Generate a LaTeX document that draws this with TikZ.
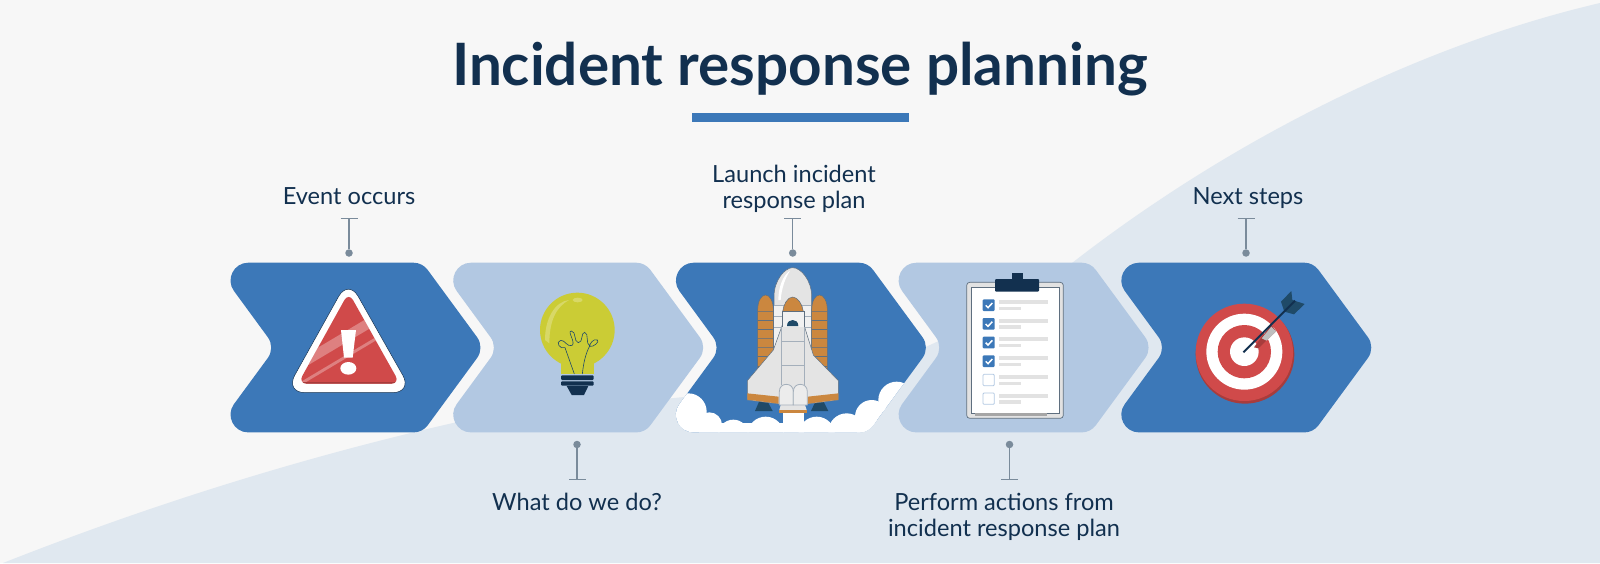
\documentclass[tikz,border=0pt]{standalone}
\usepackage{fontspec}
\setmainfont{Lato}
\usepackage{xcolor}
\usetikzlibrary{arrows.meta}
\definecolor{pagegray}{HTML}{F7F7F7}
\definecolor{wavecol}{HTML}{E0E8F0}
\definecolor{stepdark}{HTML}{3C78B8}
\definecolor{steplight}{HTML}{B2C8E2}
\definecolor{navy}{HTML}{12304F}
\definecolor{stemcol}{HTML}{7A8B9B}
\definecolor{alertred}{HTML}{D04A4A}
\definecolor{darkred}{HTML}{A83C3C}
\definecolor{bulbcol}{HTML}{CBCC35}
\definecolor{boostercol}{HTML}{CB873F}
\definecolor{teal}{HTML}{1F4A68}
\definecolor{hullcol}{HTML}{E4E4E4}
\definecolor{rimcol}{HTML}{5F6F7F}
\definecolor{ribcol}{HTML}{A4AFBB}
\definecolor{barcol}{HTML}{E2E2E2}
\tikzstyle{stemline}=[stemcol,line width=1.5pt,-{Bar[width=17pt,length=1.5pt]}]
\tikzstyle{stemdot}=[circle,fill=stemcol,inner sep=0pt,minimum size=7.5pt]
\tikzstyle{steptext}=[navy,align=center,inner sep=0pt,font=\fontsize{23.6}{26}\selectfont]
\tikzstyle{hull}=[fill=hullcol,draw=rimcol,line width=.5pt]
\tikzstyle{booster}=[fill=boostercol,draw=rimcol,line width=.5pt]
\tikzstyle{rib}=[ribcol,line width=.8pt]
\newcommand{\chevronpath}{
	(35,262.7) -- (200.4,262.7) .. controls (205.9,262.7) and (211.1,265.4) .. (214.4,269.8)
	-- (263.9,337.2) .. controls (268.4,343.4) and (268.4,351.8) .. (263.9,358)
	-- (214.4,425.4) .. controls (211.1,429.8) and (205.9,432.4) .. (200.4,432.4)
	-- (35,432.4) .. controls (20.6,432.4) and (12.2,415.8) .. (20.7,404.2)
	-- (54.6,358) .. controls (59.1,351.8) and (59.1,343.4) .. (54.6,337.2)
	-- (20.7,290.9) .. controls (12.2,279.3) and (20.6,262.7) .. (35,262.7) -- cycle}
\newcommand{\chevronbox}[2]{
	\fill[#2,xshift=#1pt] \chevronpath;
}
\newcommand{\checkrow}[2]{
	\fill[barcol] (237,#1+2) rectangle (384,#1+14);
	\fill[barcol] (237,#1+22) rectangle (303,#1+32);
	#2
}
\begin{document}
\begin{tikzpicture}[x=1pt,y=-1pt]
	\useasboundingbox (0,0) rectangle (1600,563);
	\fill[pagegray] (0,0) rectangle (1600,563);
	\fill[wavecol] (3,563) .. controls (150,505) and (300,458) .. (453,423) .. controls (560,398) and (800,405) .. (930,345) .. controls (980,322) and (1020,300) .. (1072,263) .. controls (1230,140) and (1420,45) .. (1600,3) -- (1600,563) -- cycle;

	\node[navy,inner sep=0pt,anchor=base,font=\fontsize{58.4}{62}\selectfont\bfseries] (title) at (800,85.5) {Incident response planning};
	\fill[stepdark] (692,113.3) rectangle (909,121.7);

	\chevronbox{213.2}{stepdark}
	\chevronbox{435.9}{steplight}
	\chevronbox{658.6}{stepdark}
	\chevronbox{881.3}{steplight}
	\chevronbox{1104}{stepdark}

	% stems and labels
	\node[stemdot] (dotA) at (349,253) {};
	\coordinate (barA) at (349,217.7);
	\draw[stemline] (dotA) -- (barA);
	\node[steptext,anchor=base] (labelA) at (349,204.3) {Event occurs};
	\node[stemdot] (dotB) at (577,444.5) {};
	\coordinate (barB) at (577,480);
	\draw[stemline] (dotB) -- (barB);
	\node[steptext,anchor=base] (labelB) at (577,510) {What do we do?};
	\node[stemdot] (dotC) at (792.7,253) {};
	\coordinate (barC) at (792.7,217.7);
	\draw[stemline] (dotC) -- (barC);
	\node[steptext,anchor=south] (labelC) at (794,212.5) {Launch incident\\response plan};
	\node[stemdot] (dotD) at (1009.5,444.5) {};
	\coordinate (barD) at (1009.5,480);
	\draw[stemline] (dotD) -- (barD);
	\node[steptext,anchor=north] (labelD) at (1004,492.5) {Perform actions from\\incident response plan};
	\node[stemdot] (dotE) at (1246,253) {};
	\coordinate (barE) at (1246,217.7);
	\draw[stemline] (dotE) -- (barE);
	\node[steptext,anchor=base] (labelE) at (1248,204.3) {Next steps};

	% warning sign
	\begin{scope}[shift={(270,275)},scale=1/3]
		\fill[white,draw=navy,line width=.5pt,rounded corners=20pt] (235,12) -- (45,353) -- (428,353) -- cycle;
		\begin{scope}
			\clip[rounded corners=9pt] (236,52) -- (84,326) -- (390,326) -- cycle;
			\fill[alertred] (0,0) rectangle (450,360);
			\fill[white,opacity=.3] (90,250) -- (300,125) -- (300,160) -- (90,285) -- cycle;
			\fill[white,opacity=.3] (90,322) -- (320,185) -- (320,195) -- (90,332) -- cycle;
			\fill[darkred] (60,322) rectangle (420,330);
		\end{scope}
		\fill[white] (213,165) -- (258,165) -- (248,248) -- (222,248) -- cycle;
		\fill[white] (235,280) ellipse (24 and 19);
	\end{scope}

	% bulb
	\begin{scope}[shift={(510,275)},scale=1/3]
		\fill[bulbcol] (153,240) rectangle (253,298);
		\fill[bulbcol] (202,165) circle (112);
		\fill[white,opacity=.25] (105,195) .. controls (105,130) and (135,80) .. (177,75) .. controls (140,95) and (118,135) .. (118,205) -- cycle;
		\fill[white,opacity=.25] (203,75) ellipse (15 and 7);
		\draw[teal,line width=.6pt] (193,297) -- (165,218) .. controls (150,225) and (135,200) .. (152,196) .. controls (165,195) and (170,215) .. (185,212) .. controls (200,205) and (170,168) .. (184,168) .. controls (200,170) and (190,200) .. (205,203) .. controls (220,203) and (212,172) .. (224,172) .. controls (238,175) and (225,205) .. (240,214) .. controls (250,217) and (270,200) .. (262,195) .. controls (250,190) and (240,205) .. (238,215) .. controls (225,240) and (220,270) .. (217,297);
		\fill[navy,rounded corners=1pt] (153,301) rectangle (251,315);
		\fill[navy,rounded corners=1pt] (153,319) rectangle (251,332);
		\fill[navy] (170,333) -- (235,333) -- (222,360) -- (185,360) -- cycle;
	\end{scope}

	% cloud and shuttle
	\begin{scope}
		\clip[xshift=658.6pt] \chevronpath;
		\begin{scope}[shift={(650,240)},scale=1/3]
			\fill[white] (60,550) rectangle (800,590);
			\fill[white] (115,515) circle (55);
			\fill[white] (178,555) circle (38);
			\fill[white] (250,585) circle (46);
			\fill[white] (347,585) circle (55);
			\fill[white] (500,585) circle (55);
			\fill[white] (590,575) circle (55);
			\fill[white] (665,530) circle (50);
			\fill[white] (740,480) circle (55);
			\fill[white] (800,520) circle (60);
			\fill[white] (620,540) rectangle (800,590);
			\fill[white] (400,515) rectangle (462,590);
		\end{scope}
	\end{scope}
	\begin{scope}[shift={(650,240)},scale=1/3]
		\fill[teal] (328,483) -- (352,483) -- (368,513) -- (315,513) -- cycle;
		\fill[teal] (497,483) -- (520,483) -- (535,513) -- (483,513) -- cycle;
		\draw[hull] (372,340) -- (372,170) .. controls (372,120) and (405,83) .. (428,83) .. controls (452,83) and (485,120) .. (485,170) -- (485,340) -- cycle;
		\fill[white] (385,180) .. controls (385,140) and (400,105) .. (420,92) .. controls (405,115) and (395,145) .. (392,180) -- cycle;
		\fill[hullcol!50!white] (373,197) rectangle (484,340);
		\foreach \ribY in {197,230,262} {
			\draw[rib] (373,\ribY) -- (484,\ribY);
		}
		\foreach \boosterX in {323,485} {
			\begin{scope}[shift={(\boosterX,0)}]
				\draw[booster] (0,395) -- (0,210) .. controls (0,185) and (10,165) .. (23.5,165) .. controls (37,165) and (47,185) .. (47,210) -- (47,395) -- cycle;
				\foreach \ribY in {240,267,350,378} {
					\draw[rimcol,line width=.5pt] (0,\ribY) -- (47,\ribY);
				}
				\foreach \ribY in {213,295,322} {
					\draw[rimcol!70!boostercol,line width=.9pt] (0,\ribY) -- (47,\ribY);
				}
			\end{scope}
		}
		\draw[hull] (397,255) -- (370,330) -- (292,422) -- (292,480) -- (390,492) -- (470,492) -- (565,480) -- (565,422) -- (490,345) -- (462,255) -- cycle;
		\fill[boostercol] (292,460) -- (386,470) -- (386,491) -- (292,479) -- cycle;
		\fill[boostercol] (473,470) -- (565,460) -- (565,479) -- (473,491) -- cycle;
		\draw[booster] (398,215) .. controls (400,195) and (412,171) .. (428,171) .. controls (444,171) and (458,195) .. (460,215) -- cycle;
		\fill[hullcol!50!white] (397,215) rectangle (462,260);
		\fill[hullcol] (397,260) rectangle (462,495);
		\draw[rimcol,line width=.5pt] (397,260) -- (397,215) -- (462,215) -- (462,260);
		\draw[rib,line width=1.2pt] (395,260) -- (395,435);
		\draw[rib,line width=1.2pt] (463,260) -- (463,435);
		\draw[rib] (395,305) -- (462,305);
		\draw[rib] (395,377) -- (462,377);
		\fill[teal] (411,258) .. controls (411,245) and (420,240) .. (428,240) .. controls (436,240) and (445,245) .. (445,258) -- cycle;
		\fill[hullcol] (392,495) -- (465,495) -- (470,510) -- (388,510) -- cycle;
		\fill[boostercol] (388,510) rectangle (472,518);
		\draw[hull,fill=hullcol!70!white,draw=ribcol,line width=.8pt] (388,495) -- (388,455) .. controls (388,440) and (398,433) .. (409,433) .. controls (420,433) and (430,440) .. (430,455) -- (430,495) -- cycle;
		\draw[hull,fill=hullcol!70!white,draw=ribcol,line width=.8pt] (430,495) -- (430,455) .. controls (430,440) and (440,433) .. (451,433) .. controls (462,433) and (472,440) .. (472,455) -- (472,495) -- cycle;
	\end{scope}

	% clipboard
	\fill[barcol,draw=rimcol,line width=.7pt,rounded corners=3pt] (966.7,282.3) rectangle (1063.3,418.3);
	\fill[white,draw=rimcol,line width=.4pt] (971,287.3) rectangle (1058.7,412.7);
	\fill[black!35] (975,413) rectangle (1046.7,415.7);
	\fill[navy,rounded corners=1pt] (995,279) rectangle (1039,291.7);
	\fill[navy] (1011.7,273.3) rectangle (1022.7,279);
	\begin{scope}[shift={(920,250)},scale=1/3]
		\foreach \rowY in {148,204,260,316} {
			\checkrow{\rowY}{
				\fill[stepdark,rounded corners=1pt] (188,\rowY) rectangle (224,\rowY+35);
				\draw[white,line width=1.5pt] (197,\rowY+18) -- (204,\rowY+25) -- (217,\rowY+11);
			}
		}
		\foreach \rowY in {373,429} {
			\checkrow{\rowY}{
				\draw[steplight,line width=.8pt,rounded corners=1pt] (189,\rowY) rectangle (223,\rowY+34);
			}
		}
	\end{scope}

	% target
	\begin{scope}[shift={(1150,270)},scale=1/3]
		\fill[darkred] (285,253) circle (148);
		\fill[alertred] (283,247) circle (146);
		\fill[white] (283,245) circle (114);
		\fill[alertred] (283,245) circle (80);
		\fill[white] (283,245) circle (43);
		\fill[darkred] (312,232) -- (364,163) -- (378,184) -- (325,235) -- cycle;
		\fill[black!25] (335,205) -- (364,170) -- (378,184) -- (350,212) -- cycle;
		\fill[teal] (393,95) -- (424,63) -- (427,90) -- (464,102) -- (432,133) -- (403,125) -- cycle;
		\draw[navy,line width=2pt] (280,247) -- (435,92);
	\end{scope}
\end{tikzpicture}
\end{document}
